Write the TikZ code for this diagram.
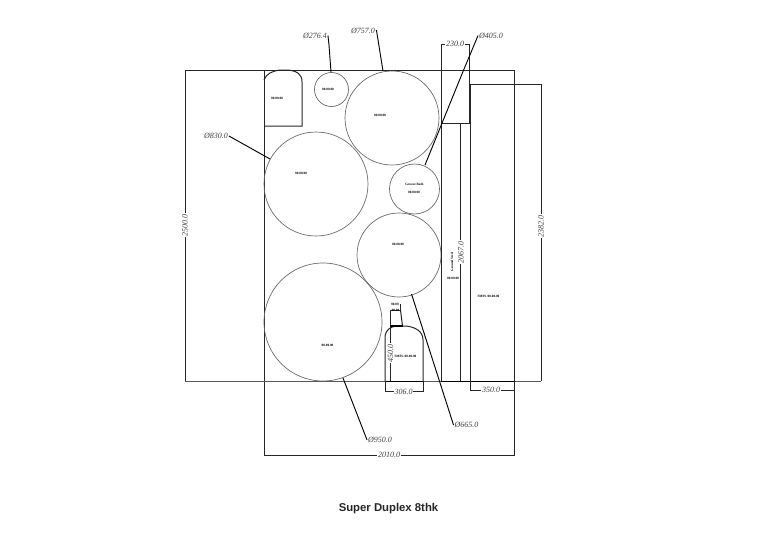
\documentclass[tikz,border=0pt]{standalone}
\usepackage{fontspec}
\setmainfont{Liberation Serif}
\newfontfamily\titlefont{Liberation Sans}
\usetikzlibrary{calc}
\tikzset{
	plate/.style={line width=0.75pt, color=black!85},
	vessel/.style={line width=0.5pt, color=black!60},
	leader/.style={line width=0.7pt, color=black},
	dimtext/.style={font=\fontsize{6}{6}\selectfont\itshape, color=black!75, inner sep=0.6pt},
	dimfill/.style={dimtext, fill=white},
	tag/.style={font=\fontsize{2.5}{2.5}\selectfont\bfseries, color=black, inner sep=0pt}
}
\begin{document}
\begin{tikzpicture}[x=0.75pt, y=-0.75pt]
			%%%%% START %%%%%
			\useasboundingbox (0, 0) rectangle (768, 543);
			
			% plate
			\draw[plate] (185, 70) rectangle (514, 381);
			\draw[plate] (264, 70) -- (264, 455) -- (514, 455) -- (514, 381);
			\draw[plate, color=black!65] (185, 381) -- (541, 381);
			\draw[line width=1.2pt] (441, 381.5) -- (514, 381.5);
			\draw[line width=1.2pt] (385, 381.5) -- (423, 381.5);
			
			% circles
			\draw[vessel] (331.5, 89.5) circle (17);
			\draw[vessel] (392, 118) circle (47);
			\draw[vessel] (316, 184) circle (52);
			\draw[vessel] (414.5, 189) circle (25);
			\draw[vessel] (399, 255) circle (42);
			\draw[vessel] (323, 322) circle (59);
			
			% rounded boxes
			\draw[plate] (264, 80) .. controls (266, 74) and (272, 71) .. (280, 70) -- (288, 70) .. controls (297, 71) and (302, 74) .. (302, 82) -- (302, 126) -- (264, 126);
			\draw[plate] (385, 381) -- (385, 336) .. controls (386, 330) and (390, 327) .. (396, 326) -- (406, 326) .. controls (415, 327) and (423, 331) .. (423, 340) -- (423, 381);
			
			% strips on the right
			\draw[plate] (441, 44) -- (441, 381);
			\draw[plate] (469, 44) -- (469, 123.5) -- (441, 123.5);
			\draw[plate] (460.5, 123.5) -- (460.5, 381);
			\draw[plate] (470, 381) -- (470, 84) -- (541, 84) -- (541, 381);
			
			% small nozzle
			\draw[plate] (390.5, 381) -- (390.5, 310) -- (400.5, 310) -- (400.5, 304);
			\draw[plate] (400.5, 310) -- (402.5, 326);
			\draw[line width=0.9pt] (390, 326) -- (403, 326);
			
			% dimension lines
			\draw[plate] (385, 381) -- (385, 391) -- (423, 391) -- (423, 381);
			\draw[plate] (470, 381) -- (470, 390) -- (514, 390) -- (514, 381);
			\draw[plate] (441, 44) -- (469, 44);
			
			\node[dimfill] (wide) at (389, 454.5) {2010.0};
			\node[dimfill] (neck) at (403.5, 391.5) {306.0};
			\node[dimfill] (side) at (491, 390) {350.0};
			\node[dimfill] (top) at (455, 44) {230.0};
			\node[dimfill, rotate=90] (plate) at (185, 225) {2500.0};
			\node[dimfill, rotate=90] (strip) at (541, 226) {2382.0};
			\node[dimfill, rotate=90] (inner) at (461, 252) {2067.0};
			\node[dimfill, rotate=90] (nozzle) at (390.5, 353) {450.0};
			
			% leaders
			\node[dimtext] (d276) at (315, 35.5) {Ø276.4};
			\node[dimtext] (d757) at (363, 30.5) {Ø757.0};
			\node[dimtext] (d405) at (491, 35.5) {Ø405.0};
			\node[dimtext] (d830) at (216, 136) {Ø830.0};
			\node[dimtext] (d950) at (380, 440) {Ø950.0};
			\node[dimtext] (d665) at (466.5, 425) {Ø665.0};
			
			\draw[leader] (d276.east) -- (329, 45) -- (331, 72);
			\draw[leader] (d757.east) -- (376.5, 30.5) -- (383, 71);
			\draw[leader] (d405.west) -- (463, 71.5) -- (425, 165);
			\draw[leader] (d830.east) -- (270, 159);
			\draw[leader] (d950.west) -- (343, 378);
			\draw[leader] (d665.west) -- (411.5, 294);
			
			% tags
			\node[tag] (t1) at (277, 98) {00.00.00};
			\node[tag] (t2) at (328, 89) {00.00.00};
			\node[tag] (t3) at (380, 115) {00.00.00};
			\node[tag] (t4) at (301, 173) {00.00.00};
			\node[tag] (t5) at (414.5, 184) {Groove Bath};
			\node[tag] (t6) at (414, 192.5) {00.00.00};
			\node[tag] (t7) at (398, 244) {00.00.00};
			\node[tag] (t8) at (327.5, 345) {00.00.00};
			\node[tag] (t9) at (405.5, 356) {SMPL 00.00.00};
			\node[tag, rotate=90] (t10) at (452, 262) {Ground Steel};
			\node[tag] (t11) at (453, 278) {00.00.00};
			\node[tag] (t12) at (488.5, 296.5) {SMPL 00.00.00};
			\node[tag] (t13) at (395, 304) {00.00};
			\node[tag] (t14) at (395.5, 310) {00.00};
			
			\node[font=\titlefont\bfseries\fontsize{8.5}{8.5}\selectfont, color=black!85] (title) at (388.5, 509) {Super Duplex 8thk};
			
			%%%%% END %%%%%
		\end{tikzpicture}
\end{document}
